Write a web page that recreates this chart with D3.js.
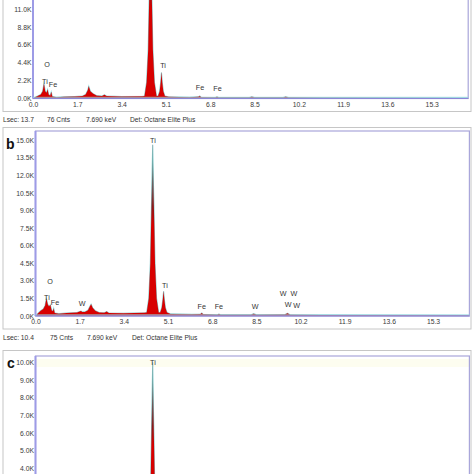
<!DOCTYPE html>
<html><head><meta charset="utf-8">
<script src="https://cdn.jsdelivr.net/npm/d3@7"></script>
<style>
html,body{margin:0;padding:0;background:#fff;overflow:hidden}
text{font-family:"Liberation Sans",Arial,sans-serif}
</style></head>
<body>
<svg id="chart" width="474" height="474"></svg>
<script>
// ---------------- DATA ----------------
const xTicks = [0, 1.7, 3.4, 5.1, 6.8, 8.5, 10.2, 11.9, 13.6, 15.3];

// Panel a
const energyA = [0.0,0.08,0.2,0.3,0.37,0.42,0.47,0.52,0.56,0.6,0.66,0.7,0.74,0.9,1.2,1.6,1.9,2.02,2.1,2.14,2.2,2.3,2.45,2.65,2.74,2.82,3.4,4.2,4.28,4.36,4.42,4.46,4.51,4.56,4.60,4.66,4.74,4.80,4.86,4.90,4.93,4.96,5.00,5.06,5.2,6.0,6.35,6.4,6.45,7.0,7.06,7.12,8.3,8.4,8.5,9.6,9.7,9.8,11.0,16.7];
const countsA = [0,150,350,500,900,1800,900,700,1100,500,350,800,250,150,200,250,300,500,1000,1500,900,600,350,300,450,300,250,280,300,2000,6000,12500,21000,12500,6000,2000,300,300,900,2000,3200,2000,900,300,200,150,200,320,150,120,200,110,120,220,110,120,220,110,90,50];
const yTicksA = [0,2200,4400,6600,8800,11000];
const labelTextA   = ["O","Ti","Fe","Ti","Fe","Fe"];
const labelEnergyA = [0.54,0.46,0.77,4.99,6.41,7.08];
const labelCountA  = [4200,2150,1780,4000,1410,1290];
const infoA = ["Lsec: 13.7","76 Cnts","7.690 keV","Det: Octane Elite Plus"];

// Panel b
const energyB = [0.0,0.08,0.2,0.3,0.37,0.42,0.47,0.52,0.57,0.62,0.67,0.7,0.74,0.9,1.2,1.6,1.75,1.8,1.9,2.02,2.1,2.14,2.2,2.3,2.45,2.65,2.74,2.82,3.4,4.2,4.28,4.36,4.42,4.46,4.51,4.56,4.60,4.66,4.74,4.80,4.86,4.90,4.93,4.96,5.00,5.06,5.2,6.0,6.35,6.4,6.45,7.0,7.06,7.12,8.3,8.4,8.5,9.6,9.7,9.8,11.0,16.7];
const countsB = [0,200,450,600,900,1500,1000,800,950,500,400,650,250,200,250,300,420,350,350,500,850,1000,700,450,300,280,380,260,240,270,300,1500,4500,9000,14600,9000,4500,1500,300,300,700,1400,2100,1400,700,300,180,140,160,260,140,110,170,100,110,200,100,120,230,110,80,40];
const yTicksB = [0,1500,3000,4500,6000,7500,9000,10500,12000,13500,15000];
const labelTextB   = ["Ti","O","Ti","Fe","Ti","W","Fe","Fe","W","W","W","W","W"];
const labelEnergyB = [4.52,0.56,0.44,0.75,4.98,1.80,6.40,7.06,8.45,9.53,9.95,9.72,10.05];
const labelCountB  = [15000,2980,1620,1190,2640,1080,850,850,850,1950,1950,950,880];
const infoB = ["Lsec: 10.4","75 Cnts","7.690 keV","Det: Octane Elite Plus"];

// Panel c
const energyC = [0.0,0.1,0.3,0.45,0.52,0.6,1.0,2.1,3.0,4.2,4.30,4.38,4.43,4.465,4.51,4.555,4.59,4.64,4.72,4.80,4.86,4.93,5.00,5.06,6.0,16.7];
const countsC = [0,200,500,1200,800,400,200,600,250,250,200,1000,3000,6000,10000,6000,3000,1000,200,250,500,1400,500,250,150,50];
const yTicksC = [4000,5000,6000,7000,8000,9000,10000];
const labelTextC   = ["Ti"];
const labelEnergyC = [4.52];
const labelCountC  = [10000];

// ---------------- LAYOUT ----------------
const svg = d3.select("#chart");
const defs = svg.append("defs");
const fmtK = v => (v/1000).toFixed(1) + "K";

const panels = [
  {id:"a", energy:energyA, counts:countsA, yTicks:yTicksA, yMax:22000, showX:true,
   lt:labelTextA, le:labelEnergyA, lc:labelCountA, info:infoA,
   xr:[33,468.2], yr:[98.5,-80.6], box:[3,-90,471,111.5], infoY:120, infoX:[3,47,86,130],
   letter:null},
  {id:"b", energy:energyB, counts:countsB, yTicks:yTicksB, yMax:15770, showX:true,
   lt:labelTextB, le:labelEnergyB, lc:labelCountB, info:infoB,
   xr:[35.5,469.4], yr:[316,131], box:[3,127.5,471,329], infoY:338, infoX:[3,50,87,132],
   letter:{t:"b", x:6, y:149}},
  {id:"c", energy:energyC, counts:countsC, yTicks:yTicksC, yMax:10360, showX:false,
   lt:labelTextC, le:labelEnergyC, lc:labelCountC, info:null,
   xr:[35.5,469.4], yr:[539,356], box:[3,350.5,471,560], infoY:null, infoX:null,
   letter:{t:"c", x:7, y:368}}
];

panels.forEach(p => {
  const g = svg.append("g");
  const x = d3.scaleLinear().domain([0,16.7]).range(p.xr);
  const y = d3.scaleLinear().domain([0,p.yMax]).range(p.yr);
  const pts = p.energy.map((e,i)=>[e,p.counts[i]]);
  const peak = d3.max(p.counts);

  // outer gray box
  g.append("rect").attr("x",p.box[0]).attr("y",p.box[1])
    .attr("width",p.box[2]-p.box[0]).attr("height",p.box[3]-p.box[1])
    .attr("fill","none").attr("stroke","#c6c6c6").attr("stroke-width",1);

  if (p.id==="c") {
    g.append("rect").attr("x",p.xr[0]).attr("y",359).attr("width",p.xr[1]-p.xr[0]).attr("height",8)
      .attr("fill","#fdfdf0");
  }

  // gradient
  const gid = "grad"+p.id;
  const gr = defs.append("linearGradient").attr("id",gid)
    .attr("gradientUnits","userSpaceOnUse")
    .attr("x1",0).attr("x2",0).attr("y1",y(peak)).attr("y2",y(0));
  [[0,"#40e0d8"],[0.09,"#58c8c2"],[0.22,"#6a6a6a"],[0.36,"#8a1a1a"],[0.47,"#d80000"],[1,"#d80000"]]
    .forEach(s=>gr.append("stop").attr("offset",s[0]).attr("stop-color",s[1]));

  const area = d3.area().x(d=>x(d[0])).y0(y(0)).y1(d=>y(d[1]));
  const line = d3.line().x(d=>x(d[0])).y(d=>y(d[1]));

  g.append("path").datum(pts).attr("d",line).attr("fill","none")
    .attr("stroke","#4ccfd2").attr("stroke-width",1.1).attr("stroke-linejoin","miter")
    .attr("stroke-miterlimit",6).attr("opacity",0.6);
  g.append("path").datum(pts).attr("d",area).attr("fill",`url(#${gid})`);
  g.append("path").datum(pts).attr("d",line).attr("fill","none")
    .attr("stroke","#8a0a14").attr("stroke-width",0.4).attr("opacity",0.3);

  // frame
  g.append("rect").attr("x",p.xr[0]).attr("y",p.yr[1])
    .attr("width",p.xr[1]-p.xr[0]).attr("height",p.yr[0]-p.yr[1])
    .attr("fill","none").attr("stroke","#a9a6da").attr("stroke-width",1.2);
  g.append("line").attr("x1",p.xr[0]).attr("x2",p.xr[0]).attr("y1",p.yr[1]).attr("y2",p.yr[0])
    .attr("stroke","#9d9be6").attr("stroke-width",2);
  g.append("line").attr("x1",p.xr[0]).attr("x2",p.xr[1]).attr("y1",p.yr[0]-1.2).attr("y2",p.yr[0]-1.2)
    .attr("stroke","#8fd6e0").attr("stroke-width",0.8);
  g.append("line").attr("x1",p.xr[0]).attr("x2",p.xr[1]).attr("y1",p.yr[0]).attr("y2",p.yr[0])
    .attr("stroke","#8b86d6").attr("stroke-width",1.2);

  // axes
  const ya = g.append("g").attr("transform",`translate(${p.xr[0]-0.5},0)`)
    .call(d3.axisLeft(y).tickValues(p.yTicks).tickSize(0).tickPadding(1).tickFormat(fmtK));
  ya.select(".domain").remove();
  ya.selectAll("text").attr("font-size",6.8).attr("fill","#3a3a3a");
  if (p.showX) {
    const xa = g.append("g").attr("transform",`translate(0,${p.yr[0]})`)
      .call(d3.axisBottom(x).tickValues(xTicks).tickSize(0).tickPadding(3.5).tickFormat(d3.format(".1f")));
    xa.select(".domain").remove();
    xa.selectAll("text").attr("font-size",6.8).attr("fill","#3a3a3a");
  }

  // element labels
  g.selectAll("text.el").data(p.lt).enter().append("text").attr("class","el")
    .attr("x",(d,i)=>x(p.le[i])).attr("y",(d,i)=>y(p.lc[i])).attr("dy","0.35em")
    .attr("text-anchor","middle").attr("font-size",7.2).attr("fill","#333").text(d=>d);

  // info row
  if (p.info) {
    g.selectAll("text.info").data(p.info).enter().append("text").attr("class","info")
      .attr("x",(d,i)=>p.infoX[i]).attr("y",p.infoY).attr("dy","0.35em")
      .attr("font-size",6.7).attr("fill","#333").text(d=>d);
  }
  if (p.letter) {
    g.append("text").attr("x",p.letter.x).attr("y",p.letter.y)
      .attr("font-size",14).attr("font-weight","bold").attr("fill","#111")
      .attr("font-family","Liberation Sans, Arial, sans-serif").text(p.letter.t);
  }
});
</script>
</body></html>
